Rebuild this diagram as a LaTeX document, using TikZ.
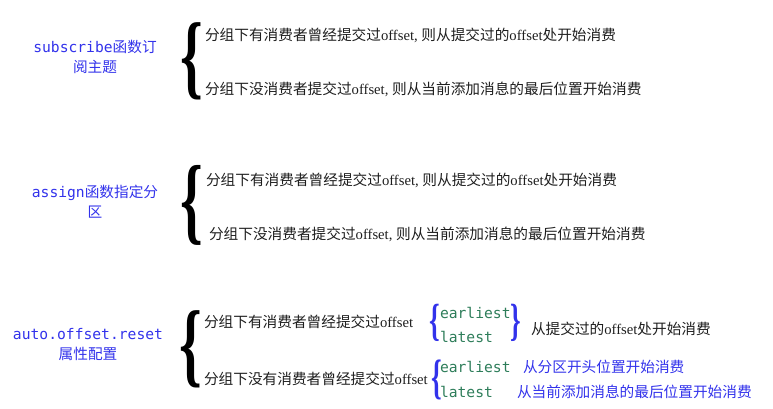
\documentclass[tikz,border=0pt]{standalone}
\usepackage{fontspec}
\usepackage{graphicx}
\usepackage{tikz}
\setmainfont{Liberation Serif}
\setmonofont{DejaVu Sans Mono}
\newfontfamily\cjk{Noto Sans CJK SC}
\newcommand{\zh}[1]{{\cjk #1}}
\newcommand{\bigbrace}[2]{\resizebox*{#1}{#2}{\bfseries\{}}
\newcommand{\bigbraceR}[2]{\resizebox*{#1}{#2}{\bfseries\}}}
\definecolor{keyblue}{RGB}{50,50,235}
\definecolor{valgreen}{RGB}{46,125,90}
\definecolor{txtgray}{RGB}{30,30,30}

\begin{document}
\begin{tikzpicture}[x=0.75pt, y=-0.75pt,
    every node/.style={inner sep=0pt, outer sep=0pt},
    keylabel/.style={align=center, text=keyblue, font=\fontsize{11}{15}\selectfont},
    case/.style={anchor=west, text=txtgray, font=\fontsize{11}{12}\selectfont},
    val/.style={anchor=west, text=valgreen, font=\fontsize{11}{12}\ttfamily},
    note/.style={anchor=west, text=keyblue, font=\fontsize{11}{12}\selectfont}]
            \useasboundingbox (0, 0) rectangle (773, 409);

            % subscribe
            \node[keylabel] (sub) at (95, 57) {\texttt{subscribe}\zh{函数订}\\\zh{阅主题}};
            \node (subbrace) at (192, 61) {\bigbrace{17pt}{58pt}};
            \node[case] (subhas) at (205, 35) {\zh{分组下有消费者曾经提交过}offset, \zh{则从提交过的}offset\zh{处开始消费}};
            \node[case] (subnone) at (205, 89) {\zh{分组下没消费者提交过}offset, \zh{则从当前添加消息的最后位置开始消费}};

            % assign
            \node[keylabel] (asg) at (95, 202) {\texttt{assign}\zh{函数指定分}\\\zh{区}};
            \node (asgbrace) at (192, 205) {\bigbrace{17pt}{60pt}};
            \node[case] (asghas) at (206, 180) {\zh{分组下有消费者曾经提交过}offset, \zh{则从提交过的}offset\zh{处开始消费}};
            \node[case] (asgnone) at (209, 234) {\zh{分组下没消费者提交过}offset, \zh{则从当前添加消息的最后位置开始消费}};

            % auto.offset.reset
            \node[keylabel] (rst) at (88, 345) {\texttt{auto.offset.reset}\\\zh{属性配置}};
            \node (rstbrace) at (191, 349) {\bigbrace{17pt}{58pt}};
            \node[case] (rsthas) at (204, 322) {\zh{分组下有消费者曾经提交过}offset};
            \node[case] (rstnone) at (204, 379) {\zh{分组下没有消费者曾经提交过}offset};

            \node[text=keyblue] (hasL) at (435, 323) {\bigbrace{8pt}{28pt}};
            \node[val] (hasE) at (440, 313) {earliest};
            \node[val] (hasl) at (440, 337) {latest};
            \node[text=keyblue] (hasR) at (516, 323) {\bigbraceR{8pt}{28pt}};
            \node[case] (hasdo) at (531, 329) {\zh{从提交过的}offset\zh{处开始消费}};

            \node[text=keyblue] (noneL) at (437, 380) {\bigbrace{8pt}{30pt}};
            \node[val] (noneE) at (440, 367) {earliest};
            \node[val] (nonel) at (440, 392) {latest};
            \node[note] (noneEdo) at (523, 367) {\zh{从分区开头位置开始消费}};
            \node[note] (noneldo) at (517, 392) {\zh{从当前添加消息的最后位置开始消费}};
        \end{tikzpicture}
\end{document}
